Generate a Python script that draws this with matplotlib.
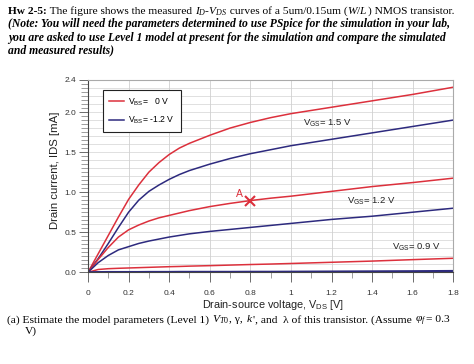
import matplotlib
matplotlib.use("Agg")
import matplotlib.pyplot as plt
from matplotlib.ticker import MultipleLocator, FixedLocator

plt.rcParams['mathtext.fontset'] = 'custom'
plt.rcParams['mathtext.rm'] = 'Liberation Serif'
plt.rcParams['mathtext.it'] = 'Liberation Serif:italic'
plt.rcParams['mathtext.bf'] = 'Liberation Serif:bold'
plt.rcParams['mathtext.sf'] = 'Liberation Sans'

# ---- data ----
vds = [0, 0.05, 0.1, 0.15, 0.2, 0.25, 0.3, 0.35, 0.4, 0.45, 0.5, 0.6, 0.7, 0.8, 0.9, 1.0, 1.2, 1.4, 1.6, 1.8]
id_15_vbs0 = [0, 0.23, 0.46, 0.69, 0.91, 1.09, 1.25, 1.37, 1.47, 1.55, 1.61, 1.71, 1.80, 1.87, 1.93, 1.98, 2.06, 2.14, 2.22, 2.31]
id_15_vbs12 = [0, 0.17, 0.36, 0.56, 0.75, 0.90, 1.01, 1.09, 1.16, 1.22, 1.27, 1.35, 1.42, 1.48, 1.53, 1.58, 1.66, 1.74, 1.82, 1.90]
id_12_vbs0 = [0, 0.16, 0.31, 0.44, 0.53, 0.59, 0.64, 0.68, 0.71, 0.74, 0.77, 0.82, 0.86, 0.895, 0.925, 0.95, 1.01, 1.07, 1.12, 1.175]
id_12_vbs12 = [0, 0.12, 0.21, 0.28, 0.32, 0.36, 0.39, 0.415, 0.44, 0.46, 0.48, 0.51, 0.535, 0.56, 0.585, 0.61, 0.66, 0.70, 0.75, 0.80]
id_09_vbs0 = [0, 0.035, 0.045, 0.05, 0.054, 0.058, 0.062, 0.066, 0.07, 0.073, 0.077, 0.083, 0.09, 0.097, 0.103, 0.11, 0.125, 0.14, 0.158, 0.175]
id_09_vbs12 = [0, 0.002, 0.003, 0.003, 0.003, 0.003, 0.004, 0.004, 0.004, 0.005, 0.005, 0.005, 0.005, 0.006, 0.006, 0.007, 0.009, 0.011, 0.013, 0.016]
point_a = (0.8, 0.895)
x_ticks = [0, 0.2, 0.4, 0.6, 0.8, 1.0, 1.2, 1.4, 1.6, 1.8]
x_ticklabels = ['0', '0.2', '0.4', '0.6', '0.8', '1', '1.2', '1.4', '1.6', '1.8']
y_ticks = [0.0, 0.5, 1.0, 1.5, 2.0, 2.4]
y_ticklabels = ['0.0', '0.5', '1.0', '1.5', '2.0', '2.4']

RED = '#dc303c'
BLUE = '#2d2a7e'

W, H = 474, 364
fig = plt.figure(figsize=(W / 100, H / 100), dpi=100)

ax = fig.add_axes([88 / W, 1 - 272.3 / H, (453.3 - 88) / W, (272.3 - 80) / H])
ax.set_xlim(0, 1.8)
ax.set_ylim(0, 2.4)

# grid
for yv in [i * 0.1 for i in range(1, 24)]:
    ax.axhline(yv, color='#dadada', lw=0.6, zorder=0)
for xv in x_ticks[1:-1]:
    ax.axvline(xv, color='#d0d0d0', lw=0.6, zorder=0)

ax.plot(vds, id_15_vbs0, color=RED, lw=1.1, label=r'V$_{\mathsf{BS}}$=   0 V')
ax.plot(vds, id_15_vbs12, color=BLUE, lw=1.1, label=r'V$_{\mathsf{BS}}$= -1.2 V')
ax.plot(vds, id_12_vbs0, color=RED, lw=1.1)
ax.plot(vds, id_12_vbs12, color=BLUE, lw=1.1)
ax.plot(vds, id_09_vbs0, color=RED, lw=1.1)
ax.plot(vds, id_09_vbs12, color=BLUE, lw=1.6)

ax.plot([point_a[0]], [point_a[1]], marker='x', color=RED, ms=7, mew=1.5, clip_on=False)
ax.text(point_a[0] - 0.055, point_a[1] + 0.015, 'A', color=RED, fontsize=7.5,
        family='Liberation Sans', ha='center', va='bottom')

lab_kw = dict(fontsize=6.8, family='Liberation Sans', color='#222222', va='center')
ax.text(1.06, 1.86, r'V$_{\mathsf{GS}}$= 1.5 V', **lab_kw)
ax.text(1.275, 0.88, r'V$_{\mathsf{GS}}$= 1.2 V', **lab_kw)
ax.text(1.50, 0.31, r'V$_{\mathsf{GS}}$= 0.9 V', **lab_kw)

leg = ax.legend(loc='upper left', bbox_to_anchor=(0.040, 0.948),
                prop={'family': 'Liberation Sans', 'size': 6.2},
                frameon=True, fancybox=False, edgecolor='#222222', framealpha=1,
                handlelength=1.7, handletextpad=0.55, borderpad=0.75, labelspacing=0.8,
                borderaxespad=0)
leg.get_frame().set_linewidth(0.8)

ax.xaxis.set_major_locator(FixedLocator(x_ticks))
ax.set_xticklabels(x_ticklabels)
ax.xaxis.set_minor_locator(MultipleLocator(0.1))
ax.yaxis.set_major_locator(FixedLocator(y_ticks))
ax.set_yticklabels(y_ticklabels)
ax.yaxis.set_minor_locator(MultipleLocator(0.05))
ax.tick_params(axis='x', which='major', direction='out', length=7, width=0.6,
               color='#555555', labelsize=6, labelcolor='#333333', pad=6)
ax.tick_params(axis='x', which='minor', direction='out', length=4.5, width=0.5, color='#777777')
ax.tick_params(axis='y', which='major', direction='out', length=6.5, width=0.6,
               color='#555555', labelsize=6, labelcolor='#333333', pad=2)
ax.tick_params(axis='y', which='minor', direction='out', length=5, width=0.5, color='#777777')
for lbl in ax.get_xticklabels() + ax.get_yticklabels():
    lbl.set_family('Liberation Sans')

ax.spines['left'].set_color('#444444')
ax.spines['bottom'].set_color('#444444')
ax.spines['top'].set_color('#aaaaaa')
ax.spines['right'].set_color('#aaaaaa')
for s in ax.spines.values():
    s.set_linewidth(0.8)

fig.text(273 / W, 1 - 305.5 / H, r'Drain-source voltage, V$_{\mathsf{DS}}$ [V]', ha='center',
         va='center', fontsize=7.8, family='Liberation Sans', color='#222222')
fig.text(55 / W, 1 - 170 / H, 'Drain current, IDS [mA]', ha='center', va='center',
         rotation=90, fontsize=8.2, family='Liberation Sans', color='#222222')

# ---- text around the chart ----
renderer = fig.canvas.get_renderer()


def seq_text(x_px, y_px, parts, size):
    x = x_px
    for s, kw in parts:
        t = fig.text(x / W, 1 - y_px / H, s, va='baseline', ha='left', fontsize=size,
                     family='Liberation Serif', color='black', **kw)
        x += t.get_window_extent(renderer).width


seq_text(8, 14, [('Hw 2-5:', dict(weight='bold')),
                 (' The figure shows the measured ', {}),
                 (r'$I_D$-$V_{DS}$', {}),
                 (' curves of a 5um/0.15um (', {}),
                 (r'$W/L$', {}),
                 (') NMOS transistor.', {})], 8.2)
bi = dict(weight='bold', style='italic')
seq_text(8, 27, [('(Note: You will need the parameters determined to use PSpice for the simulation in your lab,', bi)], 8.4)
seq_text(8, 40.5, [('you are asked to use Level 1 model at present for the simulation and compare the simulated', bi)], 8.4)
seq_text(8, 53.5, [('and measured results)', bi)], 8.4)

seq_text(7, 322.5, [('(a) Estimate the model parameters (Level 1) ', {}),
                    (r'$V_{T0}$', {}),
                    (', \u03b3, ', {}),
                    (r"$k$", {}),
                    ("', and  \u03bb of this transistor. (Assume ", {}),
                    (r'$\varphi_f$', {}),
                    ('= 0.3', {})], 8.25)
seq_text(25, 334, [('V)', {})], 8.25)

fig.savefig('out.png', dpi=100)
